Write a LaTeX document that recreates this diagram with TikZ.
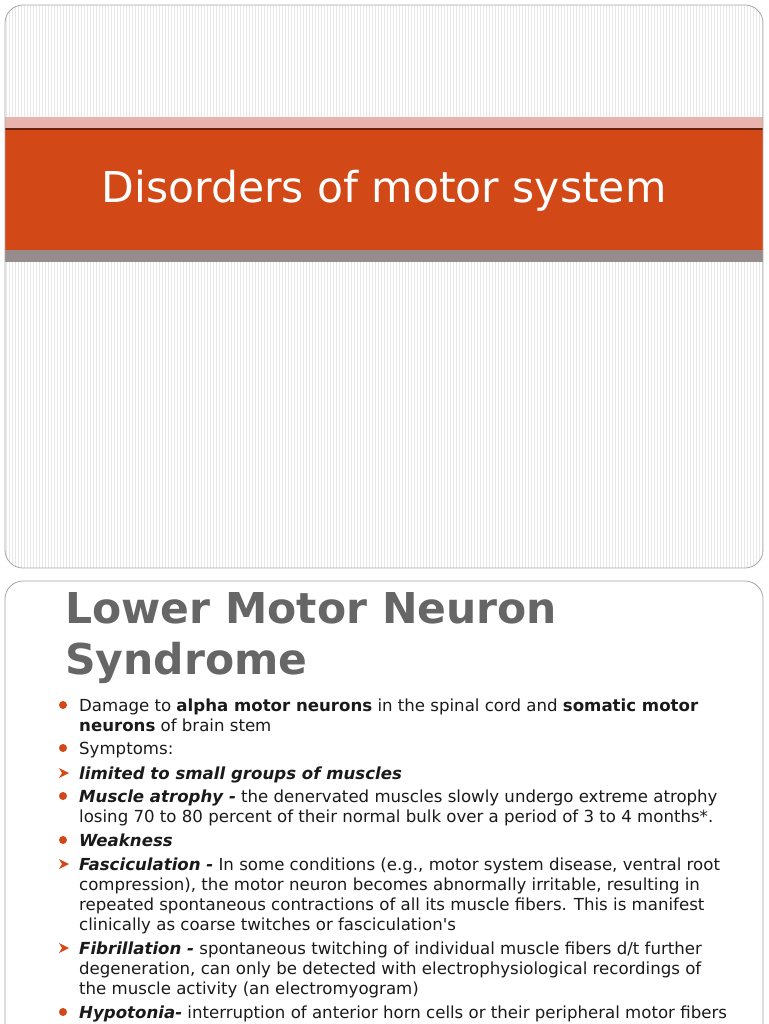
\documentclass[tikz,border=0pt]{standalone}
\usepackage{fontspec}
\setmainfont{DejaVu Sans}
\definecolor{org}{HTML}{D34817}
\definecolor{pinkb}{HTML}{E8B4AE}
\definecolor{grayb}{HTML}{968C8C}
\definecolor{ttl}{HTML}{666666}
\definecolor{txt}{HTML}{1A1A1A}
\begin{document}
\begin{tikzpicture}[x=1pt,y=-1pt,
  ln/.style={anchor=base west,inner sep=0pt,font=\fontsize{16.6}{19}\selectfont,text=txt},
  dotb/.style={circle,fill=org,inner sep=0pt,minimum size=8pt}]
\useasboundingbox (0,0) rectangle (768,1024);
\fill[white] (0,0) rectangle (768,1024);
% slide 1
\begin{scope}
\clip[rounded corners=18] (5,5) rectangle (763,568);
\foreach \x in {6,9,...,762} \draw[gray!18,line width=0.6pt] (\x,5) -- (\x,568);
\fill[pinkb] (5,117) rectangle (763,128);
\fill[grayb] (5,250) rectangle (763,262);
\fill[org] (5,128) rectangle (763,250);
\fill[black!50!org] (5,128) rectangle (763,130);
\end{scope}
\draw[gray!70,line width=0.8pt,rounded corners=18] (5,5) rectangle (763,568);
\node[text=white,font=\fontsize{42.5}{48}\selectfont] (t1) at (384,191) {Disorders of motor system};
% slide 2
\draw[gray!70,line width=0.8pt,rounded corners=18] (5,1040) -- (5,581) -- (763,581) -- (763,1040);
\node[anchor=base west,inner sep=0pt,text=ttl,font=\fontsize{42.5}{48}\selectfont\bfseries] (t2a) at (65,623) {Lower Motor Neuron};
\node[anchor=base west,inner sep=0pt,text=ttl,font=\fontsize{42.5}{48}\selectfont\bfseries] (t2b) at (65,674) {Syndrome};
\foreach \y in {705,748,796,840,1012} \node[dotb] at (63,\y) {};
\foreach \y in {773,864,948} \fill[org] (59,\y-5) -- (69,\y) -- (59,\y+5) -- (62,\y) -- cycle;
\node[ln] (l1) at (79,711) {Damage to \textbf{alpha motor neurons} in the spinal cord and \textbf{somatic motor}};
\node[ln] (l2) at (79,731) {\textbf{neurons} of brain stem};
\node[ln] (l3) at (79,754) {Symptoms:};
\node[ln] (l4) at (79,779) {\textbf{\textit{limited to small groups of muscles}}};
\node[ln] (l5) at (79,802) {\textbf{\textit{Muscle atrophy -}} the denervated muscles slowly undergo extreme atrophy};
\node[ln] (l6) at (79,822) {losing 70 to 80 percent of their normal bulk over a period of 3 to 4 months*.};
\node[ln] (l7) at (79,846) {\textbf{\textit{Weakness}}};
\node[ln] (l8) at (79,870) {\textbf{\textit{Fasciculation -}} In some conditions (e.g., motor system disease, ventral root};
\node[ln] (l9) at (79,890) {compression), the motor neuron becomes abnormally irritable, resulting in};
\node[ln] (l10) at (79,910) {repeated spontaneous contractions of all its muscle fibers. This is manifest};
\node[ln] (l11) at (79,930) {clinically as coarse twitches or fasciculation\textquotesingle s};
\node[ln] (l12) at (79,954) {\textbf{\textit{Fibrillation -}} spontaneous twitching of individual muscle fibers d/t further};
\node[ln] (l13) at (79,974) {degeneration, can only be detected with electrophysiological recordings of};
\node[ln] (l14) at (79,994) {the muscle activity (an electromyogram)};
\node[ln] (l15) at (79,1018) {\textbf{\textit{Hypotonia-}} interruption of anterior horn cells or their peripheral motor fibers};
\end{tikzpicture}
\end{document}
